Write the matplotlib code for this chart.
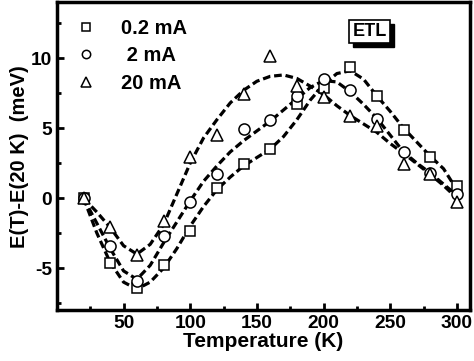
import matplotlib
matplotlib.use("Agg")
import matplotlib.pyplot as plt
from matplotlib.ticker import MultipleLocator
from matplotlib.patches import Rectangle

plt.rcParams['font.family'] = ['Liberation Sans', 'DejaVu Sans']
plt.rcParams['font.weight'] = 'bold'
plt.rcParams['axes.unicode_minus'] = False

# measured points
T = [20, 40, 60, 80, 100, 120, 140, 160, 180, 200, 220, 240, 260, 280, 300]
e_02 = [0, -4.6, -6.4, -4.8, -2.35, 0.73, 2.42, 3.53, 6.75, 7.9, 9.38, 7.32, 4.88, 2.94, 0.87]
e_2 = [0, -3.4, -5.95, -2.7, -0.3, 1.75, 4.95, 5.6, 7.3, 8.5, 7.72, 5.66, 3.3, 1.8, 0.33]
e_20 = [0, -2.04, -4.05, -1.6, 2.93, 4.48, 7.44, 10.16, 8.03, 7.2, 5.9, 5.12, 2.42, 1.7, -0.26]

# fitted curves
T_fit = [20, 30, 40, 50, 60, 70, 80, 90, 100, 110, 120, 130, 140, 150, 160,
         170, 180, 190, 200, 210, 220, 230, 240, 250, 260, 270, 280, 290, 300]
fit_02 = [0, -2.5, -4.6, -6.0, -6.5, -6.0, -5.0, -3.6, -2.0, -0.6, 0.6, 1.5, 2.3, 2.9, 3.5,
          4.4, 5.6, 7.0, 8.1, 8.9, 9.1, 8.5, 7.3, 6.2, 5.0, 4.0, 3.0, 2.1, 0.6]
fit_2 = [0, -1.8, -3.6, -5.2, -5.8, -4.8, -3.2, -1.7, -0.2, 1.2, 2.3, 3.3, 4.1, 4.8, 5.5,
         6.3, 7.1, 7.9, 8.4, 8.3, 7.6, 6.7, 5.7, 4.5, 3.3, 2.5, 1.8, 1.0, 0.2]
fit_20 = [0, -1.0, -2.1, -3.4, -4.0, -3.3, -1.9, 0.3, 2.5, 4.3, 5.6, 6.8, 7.7, 8.35, 8.7,
          8.8, 8.55, 8.0, 7.4, 6.6, 5.9, 5.3, 4.7, 3.9, 3.2, 2.45, 1.7, 0.9, 0.0]

labels = ['0.2 mA', ' 2 mA', '20 mA']

fig = plt.figure(figsize=(4.74, 3.61), dpi=100)
ax = fig.add_axes([0.120, 0.141, 0.872, 0.853])

for fit in (fit_02, fit_2, fit_20):
    ax.plot(T_fit, fit, color='black', lw=2.3, ls=(0, (2.4, 1.2)), zorder=2)

mk = dict(ls='none', mfc='white', mec='black', mew=1.1, zorder=3)
h1, = ax.plot(T, e_02, marker='s', ms=7, **mk)
h2, = ax.plot(T, e_2, marker='o', ms=8, **mk)
h3, = ax.plot(T, e_20, marker='^', ms=9, **mk)

ax.legend([h1, h2, h3], labels, loc='upper left', bbox_to_anchor=(0.003, 1.005),
          frameon=False, prop={'weight': 'bold', 'size': 14.5},
          handletextpad=1.2, labelspacing=0.42, markerscale=0.75, handlelength=1.0)

ax.set_xlim(0, 310)
ax.set_ylim(-8, 14)
ax.xaxis.set_major_locator(MultipleLocator(50))
ax.xaxis.set_minor_locator(MultipleLocator(25))
ax.yaxis.set_major_locator(MultipleLocator(5))
ax.yaxis.set_minor_locator(MultipleLocator(2.5))
ax.set_xticks([50, 100, 150, 200, 250, 300])
ax.tick_params(which='both', direction='in', width=2, labelsize=13.8)
ax.tick_params(which='major', length=5)
ax.tick_params(which='minor', length=3)
for s in ax.spines.values():
    s.set_linewidth(2.5)

ax.set_xlabel('Temperature (K)', fontsize=15, fontweight='bold', labelpad=0)
ax.set_ylabel('E(T)-E(20 K)  (meV)', fontsize=14.5, fontweight='bold', labelpad=1)

# ETL label box with shadow (axes coords)
bx0, by0, bw, bh = 0.707, 0.867, 0.099, 0.075
ax.add_patch(Rectangle((bx0 + 0.010, by0 - 0.013), bw, bh, transform=ax.transAxes,
                       facecolor='black', edgecolor='black', zorder=4))
ax.add_patch(Rectangle((bx0, by0), bw, bh, transform=ax.transAxes,
                       facecolor='white', edgecolor='black', lw=1.2, zorder=5))
ax.text(bx0 + bw / 2, by0 + bh / 2, 'ETL', transform=ax.transAxes, ha='center',
        va='center', fontsize=13, fontweight='bold', zorder=6)

fig.savefig('out.png', dpi=100)
